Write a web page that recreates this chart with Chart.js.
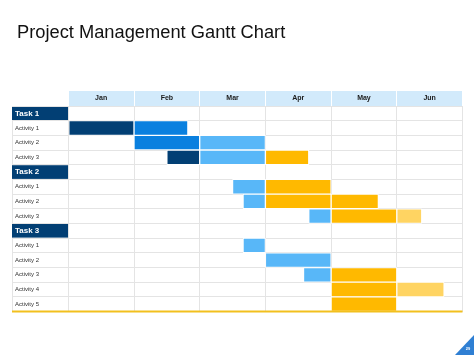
<!DOCTYPE html>
<html>
<head>
<meta charset="utf-8">
<script src="https://cdn.jsdelivr.net/npm/chart.js@4"></script>
<style>
  html, body { margin: 0; padding: 0; background: #fff; }
  #wrap { position: relative; width: 474px; height: 355px; }
  #title { position: absolute; left: 17px; top: 23px; font: 18.3px/18px "Liberation Sans", Arial, sans-serif; color: #111; white-space: nowrap; }
  canvas { position: absolute; left: 0; top: 0; }
</style>
</head>
<body>
<div id="wrap">
  <canvas id="c" width="474" height="355"></canvas>
  <div id="title">Project Management Gantt Chart</div>
</div>
<script>
// ---- data ----
const rows = ["Task 1","Activity 1","Activity 2","Activity 3",
              "Task 2","Activity 1","Activity 2","Activity 3",
              "Task 3","Activity 1","Activity 2","Activity 3","Activity 4","Activity 5"];
const months = ["Jan","Feb","Mar","Apr","May","Jun"];
const pageNumber = "29";

// floating bars [start, end] in months (0 = start of Jan), one entry per row
const darkNavyBars   = [null,[0,1],null,[1.5,2], null,null,null,null, null,null,null,null,null,null];
const brightBlueBars = [null,[1,1.82],[1,2],null, null,null,null,null, null,null,null,null,null,null];
const lightBlueBars  = [null,null,[2,3],[2,3], null,[2.5,3],[2.66,3],[3.66,4], null,[2.66,3],[3,4],[3.58,4],null,null];
const yellowAprBars  = [null,null,null,[3,3.66], null,[3,4],[3,4],null, null,null,null,null,null,null];
const yellowMayBars  = [null,null,null,null, null,null,[4,4.72],[4,5], null,null,null,[4,5],[4,5],[4,5]];
const lightYellowBars= [null,null,null,null, null,null,null,[5,5.38], null,null,null,null,[5,5.72],null];

const isTask = i => rows[i] && rows[i].startsWith("Task");
const GRID = '#E4E4E4';

Chart.defaults.font.family = "'Liberation Sans', Arial, sans-serif";

const ganttDecor = {
  id: 'ganttDecor',
  beforeDraw(chart) {
    const {ctx, chartArea: ca, scales: {x2, y}} = chart;
    ctx.save();
    // header background
    ctx.fillStyle = '#D2EAFB';
    ctx.fillRect(ca.left, x2.top, ca.right - ca.left, x2.bottom - x2.top);
    // label column left border
    ctx.strokeStyle = GRID; ctx.lineWidth = 1;
    ctx.beginPath(); ctx.moveTo(12.5, ca.top); ctx.lineTo(12.5, ca.bottom); ctx.stroke();
    // task cells
    const h = (ca.bottom - ca.top) / rows.length;
    rows.forEach((r, i) => {
      if (!isTask(i)) return;
      const cy = y.getPixelForValue(i);
      ctx.fillStyle = '#023F74';
      ctx.fillRect(12, cy - h / 2 + 0.5, ca.left - 12, h - 1);
    });
    ctx.restore();
  },
  afterDraw(chart) {
    const {ctx, chartArea: ca, width, height} = chart;
    ctx.save();
    ctx.strokeStyle = '#F2C01E'; ctx.lineWidth = 2;
    ctx.beginPath(); ctx.moveTo(12, ca.bottom); ctx.lineTo(ca.right, ca.bottom); ctx.stroke();
    // page number corner
    ctx.fillStyle = '#2F7FD3';
    ctx.beginPath(); ctx.moveTo(width, height - 20); ctx.lineTo(width, height); ctx.lineTo(width - 19, height); ctx.closePath(); ctx.fill();
    ctx.fillStyle = '#fff'; ctx.font = "bold 4px 'Liberation Sans', Arial, sans-serif";
    ctx.textAlign = 'center'; ctx.textBaseline = 'middle';
    ctx.fillText(pageNumber, width - 6, height - 6);
    ctx.restore();
  }
};

const mk = (label, data, color) => ({
  label, data, backgroundColor: color, borderColor: '#ffffff', borderWidth: 1, borderSkipped: false,
  barPercentage: 1, categoryPercentage: 1, grouped: false
});

new Chart(document.getElementById('c'), {
  type: 'bar',
  data: {
    labels: rows,
    datasets: [
      mk('Dark', darkNavyBars, '#023F74'),
      mk('Blue', brightBlueBars, '#0A80DF'),
      mk('Light blue', lightBlueBars, '#58B7F8'),
      mk('Yellow Apr', yellowAprBars, '#FFB900'),
      mk('Yellow May', yellowMayBars, '#FFB900'),
      mk('Light yellow', lightYellowBars, '#FFD462')
    ]
  },
  options: {
    indexAxis: 'y',
    responsive: false,
    animation: false,
    layout: { padding: { left: 15, right: 11.5, top: 91, bottom: 43.5 } },
    plugins: { legend: { display: false }, tooltip: { enabled: false }, title: { display: false } },
    scales: {
      x: {
        type: 'linear', min: 0, max: 6, position: 'bottom',
        ticks: { display: false, stepSize: 1 },
        grid: { color: GRID, drawTicks: false },
        border: { display: false },
        afterFit(s) { s.height = 0; }
      },
      x2: {
        type: 'category', labels: months, position: 'top', offset: true,
        grid: { offset: true, drawOnChartArea: false, color: '#ffffff', tickLength: 15 },
        border: { display: false },
        ticks: { font: { size: 7, weight: 'bold' }, color: '#1a1a1a', padding: -11.5 },
        afterFit(s) { s.height = 15; }
      },
      y: {
        type: 'category', offset: true,
        grid: { offset: true, color: GRID, tickColor: GRID, tickLength: 56.3, drawTicks: true },
        border: { color: GRID },
        ticks: {
          crossAlign: 'far', padding: 0, autoSkip: false,
          color: c => isTask(c.index) ? '#ffffff' : '#333333',
          font: c => isTask(c.index) ? { size: 8, weight: 'bold' } : { size: 6 }
        },
        afterFit(s) { s.width = 53.3; }
      }
    }
  },
  plugins: [ganttDecor]
});
</script>
</body>
</html>
